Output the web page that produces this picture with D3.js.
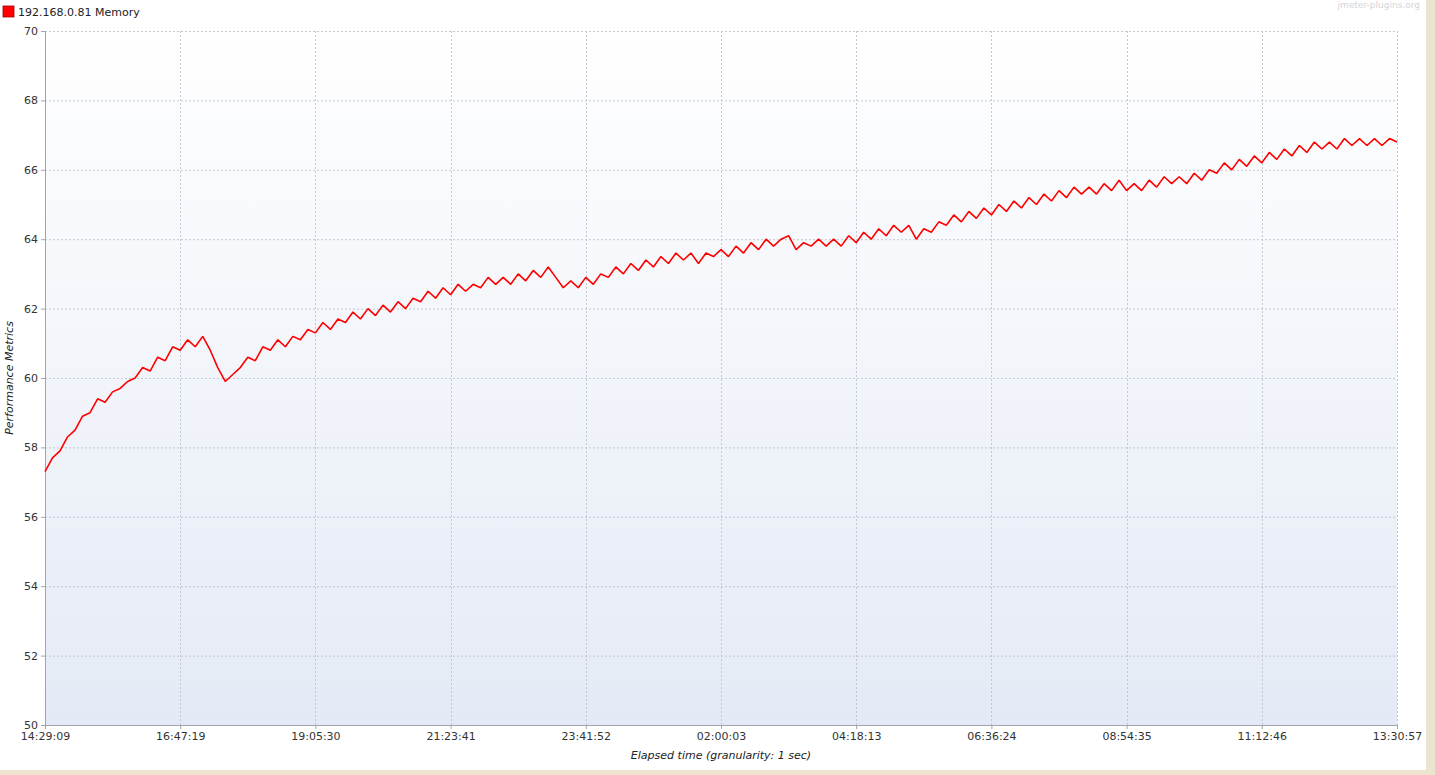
<!DOCTYPE html>
<html><head><meta charset="utf-8">
<script src="https://cdn.jsdelivr.net/npm/d3@7"></script>
<style>body{margin:0;background:#ede4d0;}svg{display:block}</style>
</head><body>
<svg id="c" width="1435" height="775"></svg>
<script>
const seriesName = "192.168.0.81 Memory";
const xTickLabels = ["14:29:09","16:47:19","19:05:30","21:23:41","23:41:52","02:00:03","04:18:13","06:36:24","08:54:35","11:12:46","13:30:57"];
const yTicks = [50,52,54,56,58,60,62,64,66,68,70];
const memory = [57.3,57.7,57.9,58.3,58.5,58.9,59.0,59.4,59.3,59.6,59.7,59.9,60.0,60.3,60.2,60.6,60.5,60.9,60.8,61.1,60.9,61.2,60.8,60.3,59.9,60.1,60.3,60.6,60.5,60.9,
60.8,61.1,60.9,61.2,61.1,61.4,61.3,61.6,61.4,61.7,61.6,61.9,61.7,62.0,61.8,62.1,61.9,62.2,62.0,62.3,62.2,62.5,62.3,62.6,62.4,62.7,62.5,62.7,62.6,62.9,
62.7,62.9,62.7,63.0,62.8,63.1,62.9,63.2,62.9,62.6,62.8,62.6,62.9,62.7,63.0,62.9,63.2,63.0,63.3,63.1,63.4,63.2,63.5,63.3,63.6,63.4,63.6,63.3,63.6,63.5,
63.7,63.5,63.8,63.6,63.9,63.7,64.0,63.8,64.0,64.1,63.7,63.9,63.8,64.0,63.8,64.0,63.8,64.1,63.9,64.2,64.0,64.3,64.1,64.4,64.2,64.4,64.0,64.3,64.2,64.5,
64.4,64.7,64.5,64.8,64.6,64.9,64.7,65.0,64.8,65.1,64.9,65.2,65.0,65.3,65.1,65.4,65.2,65.5,65.3,65.5,65.3,65.6,65.4,65.7,65.4,65.6,65.4,65.7,65.5,65.8,
65.6,65.8,65.6,65.9,65.7,66.0,65.9,66.2,66.0,66.3,66.1,66.4,66.2,66.5,66.3,66.6,66.4,66.7,66.5,66.8,66.6,66.8,66.6,66.9,66.7,66.9,66.7,66.9,66.7,66.9,66.8];

const svg = d3.select("#c");
const W = 1426, H = 770;
const m = {l:45, r:1397, t:31, b:725};
const defs = svg.append("defs");
const g = defs.append("linearGradient").attr("id","bg").attr("x1",0).attr("y1",0).attr("x2",0).attr("y2",1);
g.append("stop").attr("offset","0%").attr("stop-color","#ffffff");
g.append("stop").attr("offset","100%").attr("stop-color","#e4eaf5");
svg.append("rect").attr("width",W).attr("height",H).attr("fill","#ffffff");
svg.append("rect").attr("x",m.l).attr("y",m.t).attr("width",m.r-m.l).attr("height",m.b-m.t).attr("fill","url(#bg)");

// convert clock labels to elapsed seconds (wrapping past midnight)
const toSec = s => { const p = s.split(":").map(Number); return p[0]*3600+p[1]*60+p[2]; };
const start = toSec(xTickLabels[0]);
const xTicks = xTickLabels.map(l => ((toSec(l) - start) + 86400) % 86400);
const spanSeconds = xTicks[xTicks.length-1];
const labelOf = new Map(xTicks.map((t,i)=>[t,xTickLabels[i]]));

const x = d3.scaleLinear().domain([0,spanSeconds]).range([m.l,m.r]);
const y = d3.scaleLinear().domain([50,70]).range([m.b,m.t]);

const font = "DejaVu Sans, sans-serif";
svg.append("g").selectAll("line").data(yTicks.slice(1)).join("line")
 .attr("x1",m.l).attr("x2",m.r).attr("y1",d=>y(d)+0.5).attr("y2",d=>y(d)+0.5)
 .attr("stroke","#c4c8d0").attr("stroke-dasharray","2,2");
svg.append("g").selectAll("line").data(xTicks.slice(1)).join("line")
 .attr("y1",m.t).attr("y2",m.b).attr("x1",d=>Math.round(x(d))+0.5).attr("x2",d=>Math.round(x(d))+0.5)
 .attr("stroke","#c4c8d0").attr("stroke-dasharray","2,2");

const yA = svg.append("g").attr("transform",`translate(${m.l},0)`).call(d3.axisLeft(y).tickValues(yTicks).tickSize(4).tickFormat(d3.format("d")));
const xA = svg.append("g").attr("transform",`translate(0,${m.b})`).call(d3.axisBottom(x).tickValues(xTicks).tickSize(4).tickFormat(d=>labelOf.get(d)));
[yA,xA].forEach(a=>{a.selectAll("path,line").attr("stroke","#a0a4ac");a.selectAll("text").attr("fill","#333").style("font-family",font).style("font-size","11px");});

const line = d3.line().x((d,i)=>x(i*spanSeconds/(memory.length-1))).y(d=>y(d));
svg.append("path").datum(memory).attr("d",line).attr("fill","none").attr("stroke","#ff0000").attr("stroke-width",1.6).attr("stroke-linejoin","bevel");

svg.append("rect").attr("x",3).attr("y",6).attr("width",11).attr("height",11).attr("fill","#ff0000").attr("stroke","#a00000").attr("stroke-width",0.8);
svg.append("text").attr("x",18).attr("y",16).text(seriesName).style("font-family",font).style("font-size","11px").attr("fill","#222");
svg.append("text").attr("x",1420).attr("y",8).attr("text-anchor","end").text("jmeter-plugins.org").style("font-family",font).style("font-size","9px").attr("fill","#d4d4d8");
svg.append("text").attr("transform","translate(13,378) rotate(-90)").attr("text-anchor","middle").text("Performance Metrics").style("font-family",font).style("font-size","11px").style("font-style","italic").attr("fill","#222");
svg.append("text").attr("x",721).attr("y",759).attr("text-anchor","middle").text("Elapsed time (granularity: 1 sec)").style("font-family",font).style("font-size","11px").style("font-style","italic").attr("fill","#222");
</script></body></html>
